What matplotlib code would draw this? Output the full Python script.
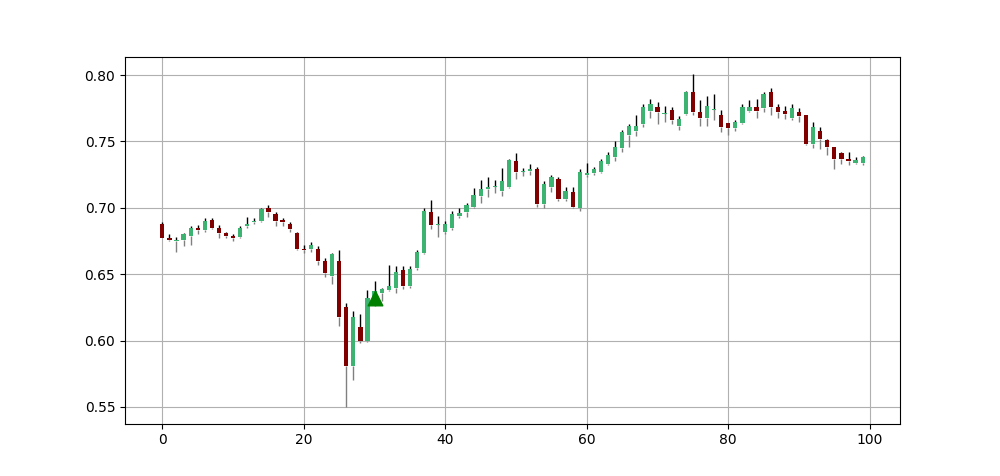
import numpy as np
import matplotlib
matplotlib.use("Agg")
import matplotlib.pyplot as plt

# candle values
opens = [.688, .677, .675, .676, .679, .685, .683, .691, .685, .681,
         .679, .678, .686, .689, .690, .700, .695, .691, .688, .681,
         .669, .669, .669, .660, .649, .660, .625, .581, .610, .600,
         .633, .636, .638, .640, .653, .641, .655, .666, .697, .687,
         .682, .685, .694, .697, .701, .709, .714, .716, .713, .716,
         .735, .727, .728, .729, .703, .716, .722, .707, .712, .700,
         .725, .726, .727, .733, .738, .745, .755, .758, .763, .773,
         .776, .771, .774, .762, .771, .787, .772, .768, .774, .770,
         .764, .760, .764, .773, .776, .775, .787, .776, .773, .768,
         .772, .770, .748, .758, .751, .746, .741, .737, .734, .734]
closes = [.677, .676, .676, .680, .685, .683, .690, .685, .681, .679,
          .677, .685, .688, .690, .699, .697, .690, .689, .684, .669,
          .668, .672, .660, .651, .665, .618, .581, .618, .600, .632,
          .637, .639, .641, .652, .641, .654, .667, .698, .687, .687,
          .688, .695, .696, .702, .710, .714, .716, .716, .720, .736,
          .727, .727, .729, .703, .718, .723, .707, .713, .701, .727,
          .726, .729, .735, .740, .746, .757, .762, .762, .776, .778,
          .772, .771, .766, .767, .787, .772, .768, .777, .774, .761,
          .760, .765, .776, .776, .773, .786, .776, .772, .771, .775,
          .769, .748, .761, .752, .746, .737, .737, .735, .736, .738]
highs = [.689, .680, .678, .681, .686, .687, .692, .692, .687, .682,
         .680, .686, .693, .692, .700, .702, .697, .692, .689, .682,
         .672, .674, .671, .662, .666, .668, .628, .622, .620, .638,
         .645, .640, .657, .656, .656, .656, .668, .700, .706, .694,
         .690, .698, .700, .704, .715, .721, .723, .721, .730, .737,
         .741, .730, .733, .731, .720, .725, .723, .716, .716, .729,
         .734, .731, .737, .742, .750, .759, .763, .770, .778, .782,
         .780, .777, .776, .769, .788, .801, .781, .784, .786, .774,
         .764, .766, .778, .781, .782, .787, .790, .778, .777, .778,
         .775, .763, .765, .761, .752, .741, .742, .742, .738, .739]
lows = [.677, .675, .667, .671, .672, .680, .682, .684, .677, .677,
        .675, .677, .685, .688, .689, .693, .686, .686, .682, .668,
        .666, .667, .657, .648, .643, .611, .550, .570, .598, .599,
        .626, .630, .637, .636, .639, .640, .653, .665, .684, .678,
        .680, .683, .692, .693, .700, .704, .708, .711, .709, .715,
        .722, .724, .725, .701, .700, .712, .705, .705, .700, .698,
        .723, .725, .726, .732, .735, .742, .746, .754, .761, .768,
        .763, .765, .763, .759, .770, .770, .762, .762, .766, .757,
        .755, .758, .763, .772, .768, .772, .770, .768, .767, .766,
        .765, .747, .745, .744, .740, .729, .733, .732, .733, .732]
signal_x = [30]
signal_y = [0.632]

fig, ax = plt.subplots(figsize=(10, 4.76), dpi=100)
for i in range(len(opens)):
    o, c, h, l = opens[i], closes[i], highs[i], lows[i]
    col = 'mediumseagreen' if c >= o else 'maroon'
    ax.vlines(i, max(o, c), h, color='black', linewidth=1, zorder=2)
    ax.vlines(i, l, min(o, c), color='grey', linewidth=1, zorder=2)
    ax.bar(i, max(abs(c - o), 0.0008), bottom=min(o, c), width=0.6, color=col, zorder=3)

ax.scatter(signal_x, signal_y, marker='^', color='green', s=110, zorder=4)
ax.grid(True)
plt.savefig('out.png')
